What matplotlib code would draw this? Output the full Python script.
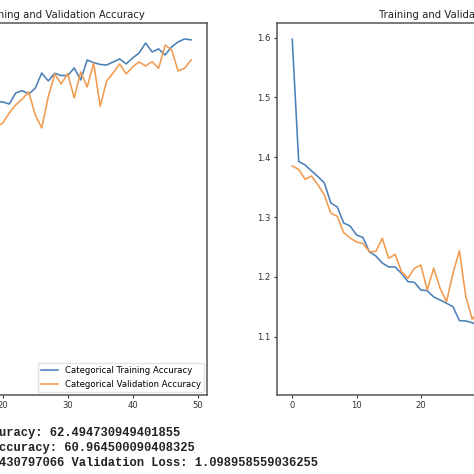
import matplotlib
matplotlib.use("Agg")
import matplotlib.pyplot as plt

epochs = list(range(50))

train_acc = [0.400, 0.450, 0.480, 0.500, 0.510, 0.520, 0.530, 0.535, 0.540, 0.545,
             0.550, 0.553, 0.556, 0.560, 0.563, 0.566, 0.568, 0.570, 0.572, 0.576,
             0.5757, 0.5738, 0.5842, 0.5863, 0.5832, 0.5886, 0.6030, 0.5955, 0.6027, 0.6006,
             0.6006, 0.6077, 0.5964, 0.6152, 0.6127, 0.6110, 0.6105, 0.6133, 0.6162, 0.6115,
             0.6171, 0.6218, 0.6312, 0.6228, 0.6256, 0.6199, 0.6275, 0.6322, 0.6350, 0.6341]
val_acc = [0.440, 0.470, 0.490, 0.500, 0.520, 0.510, 0.530, 0.540, 0.520, 0.550,
           0.540, 0.560, 0.550, 0.545, 0.560, 0.550, 0.565, 0.555, 0.560, 0.552,
           0.5560, 0.5654, 0.5729, 0.5785, 0.5851, 0.5635, 0.5513, 0.5804, 0.6021, 0.5927,
           0.6025, 0.5795, 0.6039, 0.5898, 0.6124, 0.5717, 0.5955, 0.6030, 0.6115, 0.6021,
           0.6087, 0.6134, 0.6096, 0.6136, 0.6074, 0.6293, 0.6246, 0.6049, 0.6074, 0.6152]

train_loss = [1.5973, 1.3930, 1.3871, 1.3771, 1.3676, 1.3570, 1.3236, 1.3169, 1.2901, 1.2851,
              1.2701, 1.2659, 1.2416, 1.2350, 1.2232, 1.2166, 1.2166, 1.2057, 1.1920, 1.1910,
              1.1781, 1.1769, 1.1664, 1.1614, 1.1559, 1.1502, 1.1268, 1.1263, 1.1234, 1.1180,
              1.1120, 1.1090, 1.1030, 1.0990, 1.0960, 1.0910, 1.0880, 1.0830, 1.0800, 1.0770,
              1.0730, 1.0700, 1.0660, 1.0640, 1.0600, 1.0570, 1.0540, 1.0510, 1.0480, 1.0450]
val_loss = [1.3855, 1.3796, 1.3632, 1.3687, 1.3537, 1.3370, 1.3064, 1.3013, 1.2739, 1.2650,
            1.2584, 1.2559, 1.2421, 1.2425, 1.2645, 1.2311, 1.2378, 1.2087, 1.1977, 1.2144,
            1.2199, 1.1781, 1.2144, 1.1809, 1.1585, 1.2060, 1.2438, 1.1669, 1.1291, 1.1450,
            1.1200, 1.1400, 1.1100, 1.1300, 1.1500, 1.1000, 1.1200, 1.1100, 1.1400, 1.1000,
            1.1200, 1.0900, 1.1100, 1.1300, 1.1000, 1.1200, 1.0900, 1.1100, 1.1000, 1.0990]

acc_title = "Categorical Training and Validation Accuracy"
loss_title = "Training and Validation Loss"
acc_labels = ["Categorical Training Accuracy", "Categorical Validation Accuracy"]
loss_labels = ["Training Loss", "Validation Loss"]
acc_xticks = [20, 30, 40, 50]
loss_xticks = [0, 10, 20, 30, 40, 50]
loss_yticks = [1.1, 1.2, 1.3, 1.4, 1.5, 1.6]
printed_lines = ["uracy: 62.494730949401855",
                 "ccuracy: 60.964500090408325",
                 "430797066 Validation Loss: 1.098958559036255"]

BLUE = "#4a80b8"
ORANGE = "#f29a4e"
SPINE = "#555555"
FS = 6.1

fig = plt.figure(figsize=(4.74, 4.74), dpi=100)
W = H = 474.0
ax1 = fig.add_axes([-143 / W, 79 / H, 350 / W, 372 / H])
ax2 = fig.add_axes([276.5 / W, 79 / H, 346.5 / W, 372 / H])

for ax in (ax1, ax2):
    for s in ax.spines.values():
        s.set_color(SPINE)
        s.set_linewidth(1.1)
    ax.tick_params(labelsize=FS, length=2.2, width=0.8, pad=2.2, colors="#333333")

ax1.plot(epochs, train_acc, color=BLUE, lw=1.15, label=acc_labels[0])
ax1.plot(epochs, val_acc, color=ORANGE, lw=1.15, label=acc_labels[1])
ax1.set_ylim(0.30, 0.65)
ax1.set_xticks(acc_xticks)
ax1.tick_params(axis="y", left=False, labelleft=False)
ax1.set_title(acc_title, fontsize=7.3, pad=3.7, color="#222222")
ax1.legend(loc="lower right", fontsize=FS, frameon=True, borderaxespad=0.35,
           handlelength=2.0, edgecolor="#dddddd", fancybox=True)

ax2.plot(epochs, train_loss, color=BLUE, lw=1.15, label=loss_labels[0])
ax2.plot(epochs, val_loss, color=ORANGE, lw=1.15, label=loss_labels[1])
ax2.set_ylim(1.0025, 1.6245)
ax2.set_yticks(loss_yticks)
ax2.set_xticks(loss_xticks)
ax2.set_title(loss_title, fontsize=7.3, pad=3.7, color="#222222")

for i, line in enumerate(printed_lines):
    fig.text(-1 / W, 1 - (433 + 15 * i) / H, line, family="Liberation Mono",
             fontweight="bold", fontsize=8.7, va="center", ha="left", color="#222222")

fig.savefig("out.png", dpi=100)
